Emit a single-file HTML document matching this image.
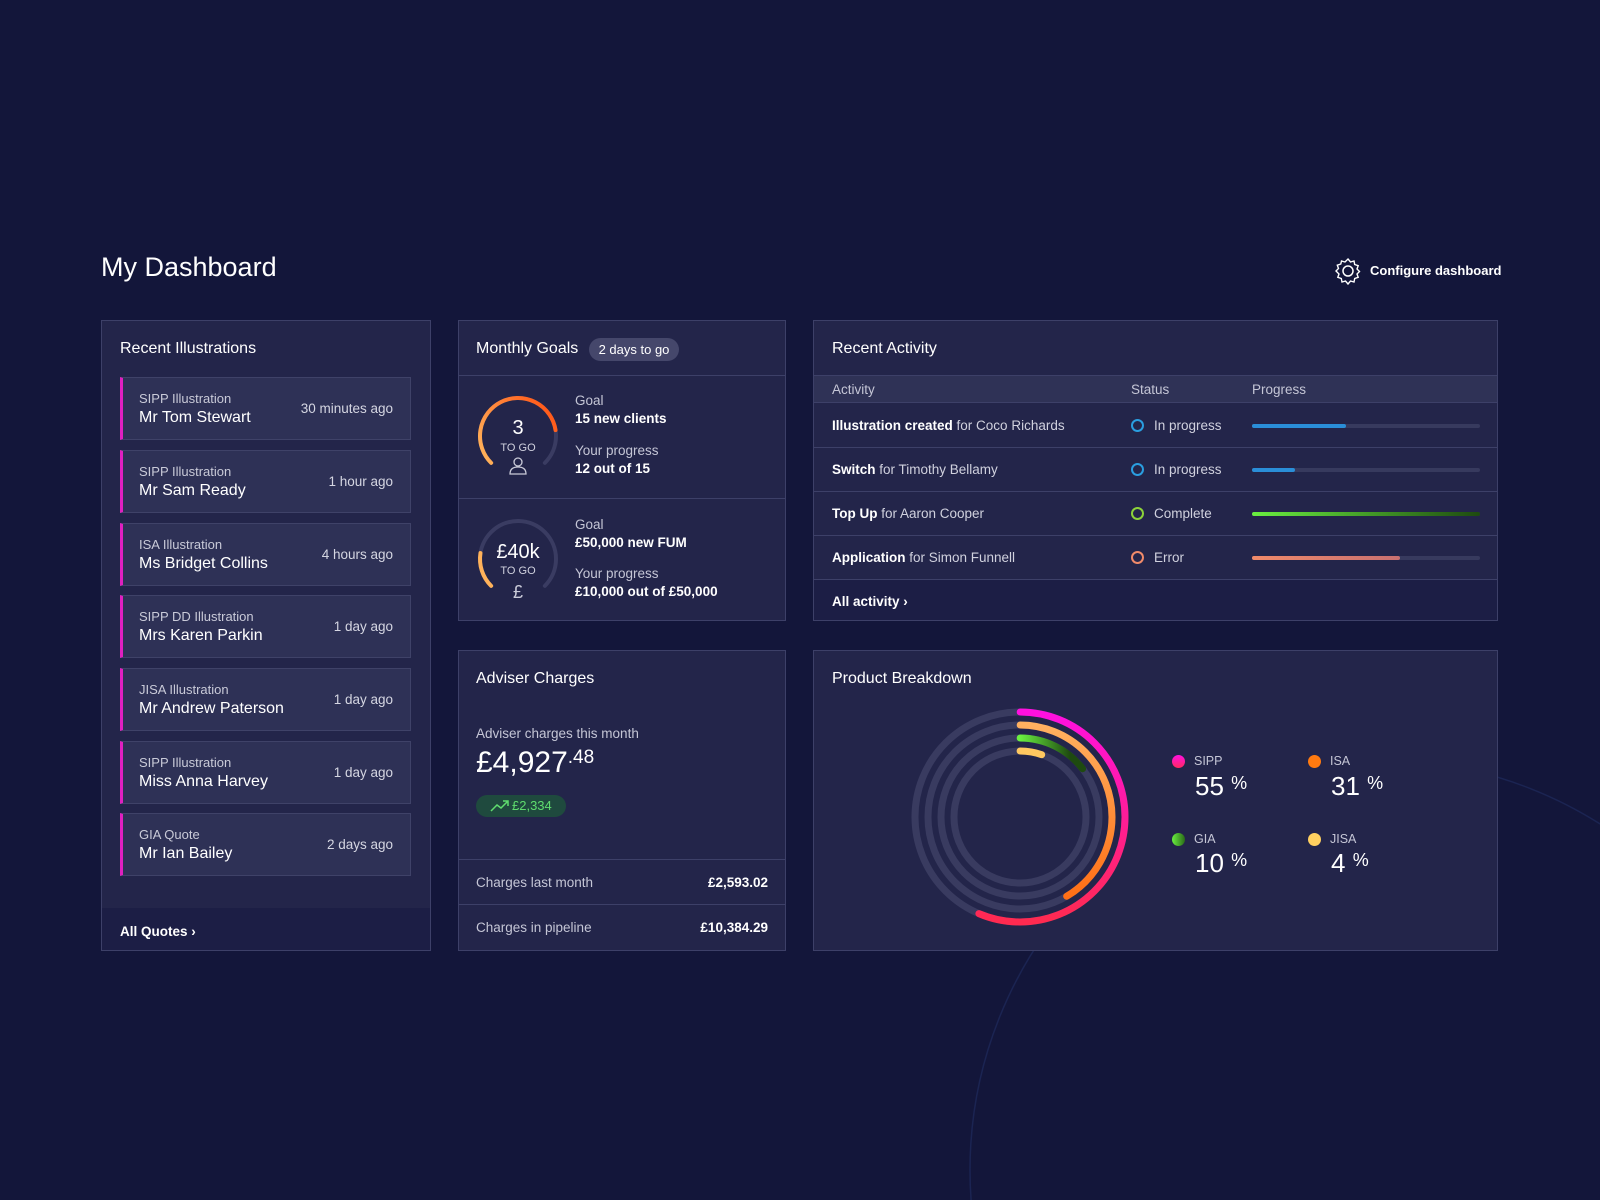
<!DOCTYPE html>
<html><head><meta charset="utf-8"><style>
*{margin:0;padding:0;box-sizing:border-box}
html,body{width:1600px;height:1200px;overflow:hidden}
body{background:#13163a;font-family:"Liberation Sans",sans-serif;color:#fff;position:relative}
.a{position:absolute;white-space:nowrap}
.card{position:absolute;background:#23254a;border:1px solid #3d4068}
.h{font-size:16px;color:#fff}
.it{position:absolute;left:18px;width:291px;height:63px;background:#2e3156;border:1px solid #3f4268;border-left:3px solid #e020c0}
.it .t{position:absolute;left:16px;top:13px;font-size:13px;color:#c9cad8}
.it .n{position:absolute;left:16px;top:31px;font-size:16px;color:#fff}
.it .w{position:absolute;right:17px;top:23px;font-size:13.5px;color:#d5d6e2}
.lbl{font-size:13.5px;color:#c5c6d6}
.b{font-size:13.5px;font-weight:bold;color:#fff}
.sep{position:absolute;left:0;right:0;height:1px;background:#3d4068}
.row{font-size:13.5px;color:#d0d1de}
.row b{color:#fff}
.bar{position:absolute;left:438px;width:228px;height:4px;border-radius:2px;background:#373a5e}
.bar i{position:absolute;left:0;top:0;height:4px;border-radius:2px}
.ci{position:absolute;width:13px;height:13px;border-radius:50%;border:2px solid}
.dot{position:absolute;width:13px;height:13px;border-radius:50%}
.pct{font-size:26px;color:#fff}
.pct span{font-size:18px;vertical-align:top;position:relative;top:2px}
</style></head><body>
<svg class="a" style="left:0;top:0" width="1600" height="1200"><circle cx="1380" cy="1170" r="410" fill="none" stroke="#1b2452" stroke-width="1.5"/></svg>

<div class="a" style="left:101px;top:252px;font-size:27px">My Dashboard</div>
<svg class="a" style="left:1334px;top:257px" width="28" height="28" viewBox="0 0 28 28"><circle cx="14" cy="14" r="5" fill="none" stroke="#fff" stroke-width="1.5"/><path d="M14 2l2.5 3 3.5-1 .7 3.5 3.5 1.2-1.2 3.3 2.5 2.5-2.5 2.5 1.2 3.3-3.5 1.2-.7 3.5-3.5-1-2.5 3-2.5-3-3.5 1-.7-3.5-3.5-1.2 1.2-3.3L2 14l2.5-2.5-1.2-3.3 3.5-1.2L7.5 4l3.5 1z" fill="none" stroke="#fff" stroke-width="1.4"/></svg>
<div class="a" style="left:1370px;top:263px;font-size:13px;font-weight:bold">Configure dashboard</div>

<!-- Recent Illustrations -->
<div class="card" style="left:101px;top:320px;width:330px;height:631px">
<div class="a h" style="left:18px;top:19px">Recent Illustrations</div>
<div class="it" style="top:56px"><div class="t">SIPP Illustration</div><div class="n">Mr Tom Stewart</div><div class="w">30 minutes ago</div></div>
<div class="it" style="top:129px"><div class="t">SIPP Illustration</div><div class="n">Mr Sam Ready</div><div class="w">1 hour ago</div></div>
<div class="it" style="top:202px"><div class="t">ISA Illustration</div><div class="n">Ms Bridget Collins</div><div class="w">4 hours ago</div></div>
<div class="it" style="top:274px"><div class="t">SIPP DD Illustration</div><div class="n">Mrs Karen Parkin</div><div class="w">1 day ago</div></div>
<div class="it" style="top:347px"><div class="t">JISA Illustration</div><div class="n">Mr Andrew Paterson</div><div class="w">1 day ago</div></div>
<div class="it" style="top:420px"><div class="t">SIPP Illustration</div><div class="n">Miss Anna Harvey</div><div class="w">1 day ago</div></div>
<div class="it" style="top:492px"><div class="t">GIA Quote</div><div class="n">Mr Ian Bailey</div><div class="w">2 days ago</div></div>
<div class="a" style="left:0;right:0;top:587px;bottom:0;background:#1c1e45"></div>
<div class="a b" style="left:18px;top:603px">All Quotes &#x203A;</div>
</div>

<!-- Monthly Goals -->
<div class="card" style="left:458px;top:320px;width:328px;height:301px">
<div class="a h" style="left:17px;top:19px">Monthly Goals</div>
<div class="a" style="left:130px;top:17px;width:90px;height:23px;border-radius:12px;background:#45476b;font-size:13px;text-align:center;line-height:23px;color:#fff">2 days to go</div>
<div class="sep" style="top:54px"></div>
<div class="sep" style="top:177px"></div>
<svg class="a" style="left:14px;top:70px" width="90" height="90" viewBox="0 0 90 90">
<defs><linearGradient id="g1" gradientUnits="userSpaceOnUse" x1="15" y1="75" x2="83" y2="30"><stop offset="0" stop-color="#ffb25a"/><stop offset="1" stop-color="#ff5a1a"/></linearGradient></defs>
<path d="M18.13 71.87A38 38 0 1 1 71.87 71.87" fill="none" stroke="#3a3c62" stroke-width="4" stroke-linecap="round"/>
<path d="M18.13 71.87A38 38 0 1 1 82.53 39.06" fill="none" stroke="url(#g1)" stroke-width="4" stroke-linecap="round"/>
<text x="45" y="43" fill="#fff" font-size="20" text-anchor="middle" font-family="Liberation Sans">3</text>
<text x="45" y="60" fill="#d0d1de" font-size="11" text-anchor="middle" font-family="Liberation Sans">TO GO</text>
<circle cx="45" cy="71" r="4" fill="none" stroke="#c9cad8" stroke-width="1.3"/><path d="M37 83q0-7 8-7t8 7z" fill="none" stroke="#c9cad8" stroke-width="1.3"/>
</svg>
<div class="a lbl" style="left:116px;top:72px">Goal</div>
<div class="a b" style="left:116px;top:90px">15 new clients</div>
<div class="a lbl" style="left:116px;top:122px">Your progress</div>
<div class="a b" style="left:116px;top:140px">12 out of 15</div>
<svg class="a" style="left:14px;top:193px" width="90" height="90" viewBox="0 0 90 90">
<path d="M18.13 71.87A38 38 0 1 1 71.87 71.87" fill="none" stroke="#3a3c62" stroke-width="4" stroke-linecap="round"/>
<path d="M18.13 71.87A38 38 0 0 1 7.47 39.06" fill="none" stroke="#ffb25a" stroke-width="4" stroke-linecap="round"/>
<text x="45" y="44" fill="#fff" font-size="20" text-anchor="middle" font-family="Liberation Sans">£40k</text>
<text x="45" y="60" fill="#d0d1de" font-size="11" text-anchor="middle" font-family="Liberation Sans">TO GO</text>
<text x="45" y="84" fill="#c9cad8" font-size="18" text-anchor="middle" font-family="Liberation Sans">£</text>
</svg>
<div class="a lbl" style="left:116px;top:196px">Goal</div>
<div class="a b" style="left:116px;top:214px">£50,000 new FUM</div>
<div class="a lbl" style="left:116px;top:245px">Your progress</div>
<div class="a b" style="left:116px;top:263px">£10,000 out of £50,000</div>
</div>

<!-- Adviser Charges -->
<div class="card" style="left:458px;top:650px;width:328px;height:301px">
<div class="a h" style="left:17px;top:19px">Adviser Charges</div>
<div class="a lbl" style="left:17px;top:75px">Adviser charges this month</div>
<div class="a" style="left:17px;top:95px;font-size:30px">£4,927<span style="font-size:19px;vertical-align:top;position:relative;top:1px">.48</span></div>
<div class="a" style="left:17px;top:144px;width:90px;height:22px;border-radius:11px;background:#1f4a3e;color:#5fdc6e;font-size:13px;line-height:22px;padding-left:36px">£2,334</div>
<svg class="a" style="left:31px;top:149px" width="20" height="12"><path d="M1 11l6-6 4 3 7-7M13 1h5v5" fill="none" stroke="#5fdc6e" stroke-width="1.5"/></svg>
<div class="sep" style="top:208px"></div>
<div class="sep" style="top:253px"></div>
<div class="a lbl" style="left:17px;top:224px">Charges last month</div>
<div class="a b" style="right:17px;top:224px">£2,593.02</div>
<div class="a lbl" style="left:17px;top:269px">Charges in pipeline</div>
<div class="a b" style="right:17px;top:269px">£10,384.29</div>
</div>

<!-- Recent Activity -->
<div class="card" style="left:813px;top:320px;width:685px;height:301px">
<div class="a h" style="left:18px;top:19px">Recent Activity</div>
<div class="a" style="left:0;right:0;top:54px;height:28px;background:#2f3256;border-top:1px solid #3d4068;border-bottom:1px solid #3d4068"></div>
<div class="a lbl" style="left:18px;top:61px">Activity</div>
<div class="a lbl" style="left:317px;top:61px">Status</div>
<div class="a lbl" style="left:438px;top:61px">Progress</div>
<div class="sep" style="top:126px"></div>
<div class="sep" style="top:170px"></div>
<div class="sep" style="top:214px"></div>
<div class="sep" style="top:258px"></div>
<div class="a" style="left:0;right:0;top:259px;bottom:0;background:#1c1e45"></div>
<div class="a row" style="left:18px;top:97px"><b>Illustration created</b> for Coco Richards</div>
<div class="ci" style="left:317px;top:98px;border-color:#2a9ee0"></div><div class="a row" style="left:340px;top:97px">In progress</div>
<div class="bar" style="top:103px"><i style="width:94px;background:#2a8ed8"></i></div>
<div class="a row" style="left:18px;top:141px"><b>Switch</b> for Timothy Bellamy</div>
<div class="ci" style="left:317px;top:142px;border-color:#2a9ee0"></div><div class="a row" style="left:340px;top:141px">In progress</div>
<div class="bar" style="top:147px"><i style="width:43px;background:#2a8ed8"></i></div>
<div class="a row" style="left:18px;top:185px"><b>Top Up</b> for Aaron Cooper</div>
<div class="ci" style="left:317px;top:186px;border-color:#8cd23a"></div><div class="a row" style="left:340px;top:185px">Complete</div>
<div class="bar" style="top:191px"><i style="width:228px;background:linear-gradient(90deg,#6af040,#1e4a10)"></i></div>
<div class="a row" style="left:18px;top:229px"><b>Application</b> for Simon Funnell</div>
<div class="ci" style="left:317px;top:230px;border-color:#f08a6a"></div><div class="a row" style="left:340px;top:229px">Error</div>
<div class="bar" style="top:235px"><i style="width:148px;background:linear-gradient(90deg,#f08a6a,#c87070)"></i></div>
<div class="a b" style="left:18px;top:273px">All activity &#x203A;</div>
</div>

<!-- Product Breakdown -->
<div class="card" style="left:813px;top:650px;width:685px;height:301px">
<div class="a h" style="left:18px;top:19px">Product Breakdown</div>
</div>
<svg class="a" style="left:900px;top:697px" width="240" height="240" viewBox="0 0 240 240">
<defs>
<linearGradient id="sp" x1="0" y1="0" x2="0" y2="1"><stop offset="0" stop-color="#ff10e0"/><stop offset="1" stop-color="#ff2a50"/></linearGradient>
<linearGradient id="is" x1="0" y1="0" x2="0" y2="1"><stop offset="0" stop-color="#ffb060"/><stop offset="1" stop-color="#ff6a10"/></linearGradient>
<linearGradient id="gi" gradientUnits="userSpaceOnUse" x1="120" y1="0" x2="170" y2="0"><stop offset="0" stop-color="#6af040"/><stop offset="1" stop-color="#1e4a10"/></linearGradient>
</defs>
<g fill="none" stroke="#393b60" stroke-width="7">
<circle cx="120" cy="120" r="105"/><circle cx="120" cy="120" r="92"/><circle cx="120" cy="120" r="79"/><circle cx="120" cy="120" r="66"/></g>
<g fill="none" stroke-width="7" stroke-linecap="round">
<circle cx="120" cy="120" r="105" stroke="url(#sp)" stroke-dasharray="372 287.7" stroke-dashoffset="164.9"/>
<circle cx="120" cy="120" r="92" stroke="url(#is)" stroke-dasharray="240 338.05" stroke-dashoffset="144.5"/>
<circle cx="120" cy="120" r="79" stroke="url(#gi)" stroke-dasharray="72 424.4" stroke-dashoffset="124.1"/>
<circle cx="120" cy="120" r="66" stroke="#ffc860" stroke-dasharray="22 392.7" stroke-dashoffset="103.7"/>
</g></svg>
<div class="dot" style="left:1172px;top:755px;background:linear-gradient(#ff10e0,#ff2a60)"></div>
<div class="a lbl" style="left:1194px;top:754px;font-size:12.5px">SIPP</div>
<div class="a pct" style="left:1195px;top:771px">55 <span>%</span></div>
<div class="dot" style="left:1308px;top:755px;background:#ff7a10"></div>
<div class="a lbl" style="left:1330px;top:754px;font-size:12.5px">ISA</div>
<div class="a pct" style="left:1331px;top:771px">31 <span>%</span></div>
<div class="dot" style="left:1172px;top:833px;background:linear-gradient(90deg,#6af040,#2a6a18)"></div>
<div class="a lbl" style="left:1194px;top:832px;font-size:12.5px">GIA</div>
<div class="a pct" style="left:1195px;top:848px">10 <span>%</span></div>
<div class="dot" style="left:1308px;top:833px;background:#ffd060"></div>
<div class="a lbl" style="left:1330px;top:832px;font-size:12.5px">JISA</div>
<div class="a pct" style="left:1331px;top:848px">4 <span>%</span></div>
</body></html>
